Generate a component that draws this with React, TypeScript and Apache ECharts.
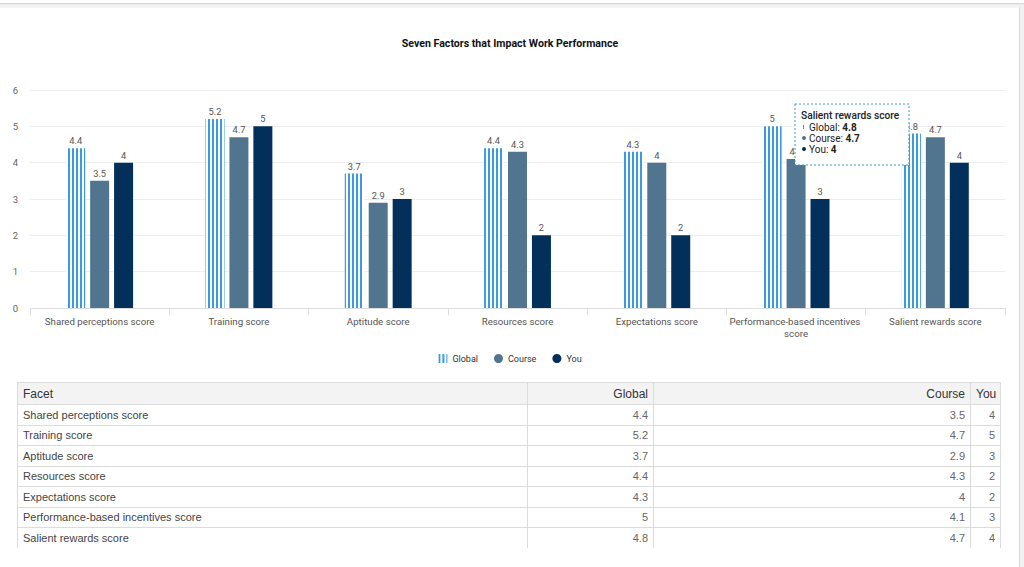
import React, { useEffect, useRef } from "react";
import * as echarts from "echarts";

const titleText = "Seven Factors that Impact Work Performance";
const categories = [
  "Shared perceptions score",
  "Training score",
  "Aptitude score",
  "Resources score",
  "Expectations score",
  "Performance-based incentives score",
  "Salient rewards score",
];
const seriesNames = ["Global", "Course", "You"];
const globalVals = [4.4, 5.2, 3.7, 4.4, 4.3, 5, 4.8];
const courseVals = [3.5, 4.7, 2.9, 4.3, 4, 4.1, 4.7];
const youVals = [4, 5, 3, 2, 2, 3, 4];
const yTicks = [0, 1, 2, 3, 4, 5, 6];
const tooltipIndex = 6;

const C_GLOBAL = "#3a9be0";
const C_COURSE = "#52758f";
const C_YOU = "#02305a";

function Chart() {
  const ref = useRef<HTMLDivElement>(null);
  useEffect(() => {
    if (!ref.current) return;
    const chart = echarts.init(ref.current, undefined, { renderer: "svg" });
    const font = "Roboto, 'Noto Sans', sans-serif";
    const labelStyle = {
      show: true,
      position: "top" as const,
      distance: 3,
      fontSize: 9.3,
      color: "#555",
      fontFamily: font,
    };
    const ti = tooltipIndex;
    const tx = 795;
    const ty = 104;
    chart.setOption({
      animation: false,
      textStyle: { fontFamily: font },
      title: {
        text: titleText,
        left: "center",
        top: 33,
        textStyle: { fontSize: 10.6, fontWeight: "bold", color: "#111", fontFamily: font },
      },
      legend: {
        bottom: 12,
        left: "center",
        itemWidth: 9,
        itemHeight: 9,
        itemGap: 16,
        textStyle: { fontSize: 9, color: "#333", fontFamily: font },
        data: [
          { name: seriesNames[0], icon: "rect" },
          { name: seriesNames[1], icon: "circle" },
          { name: seriesNames[2], icon: "circle" },
        ],
      },
      grid: { left: 30, right: 15, top: 90, bottom: 72 },
      xAxis: {
        type: "category",
        data: categories,
        axisLine: { lineStyle: { color: "#ddd" } },
        axisTick: { show: true, length: 7, lineStyle: { color: "#ddd" } },
        axisLabel: {
          fontSize: 9.7,
          color: "#555",
          margin: 7,
          interval: 0,
          width: 138,
          overflow: "break",
          lineHeight: 12,
          fontFamily: font,
        },
      },
      yAxis: {
        type: "value",
        min: yTicks[0],
        max: yTicks[yTicks.length - 1],
        interval: 1,
        axisLabel: { fontSize: 9.5, color: "#666", margin: 12, fontFamily: font },
        splitLine: { lineStyle: { color: "#eee" } },
        axisLine: { show: false },
        axisTick: { show: false },
      },
      series: [
        {
          name: seriesNames[0],
          type: "bar",
          data: globalVals,
          barWidth: 19,
          barGap: "26%",
          itemStyle: {
            color: "#fff",
            decal: {
              symbol: "rect",
              symbolSize: 1,
              color: C_GLOBAL,
              dashArrayX: [2, 2],
              dashArrayY: [10, 0],
              rotation: 0,
            },
          },
          label: labelStyle,
        },
        {
          name: seriesNames[1],
          type: "bar",
          data: courseVals,
          barWidth: 19,
          barGap: "26%",
          itemStyle: { color: C_COURSE },
          label: labelStyle,
        },
        {
          name: seriesNames[2],
          type: "bar",
          data: youVals,
          barWidth: 19,
          barGap: "26%",
          itemStyle: { color: C_YOU },
          label: labelStyle,
        },
      ],
      graphic: [
        {
          type: "group",
          z: 100,
          children: [
            {
              type: "rect",
              shape: { x: tx, y: ty, width: 114, height: 61 },
              style: { fill: "#fff", stroke: C_GLOBAL, lineWidth: 1, lineDash: [2, 2] },
              z: 100,
            },
            {
              type: "text",
              x: tx + 6,
              y: ty + 11,
              style: {
                text: categories[ti],
                fontSize: 10.2,
                fontWeight: 500,
                fill: "#222",
                fontFamily: font,
                verticalAlign: "middle",
              },
              z: 101,
            },
            {
              type: "rect",
              shape: { x: tx + 8, y: ty + 21, width: 1, height: 4 },
              style: { fill: C_GLOBAL },
              z: 101,
            },
            {
              type: "circle",
              shape: { cx: tx + 9, cy: ty + 34, r: 2 },
              style: { fill: C_COURSE },
              z: 101,
            },
            {
              type: "circle",
              shape: { cx: tx + 9, cy: ty + 45, r: 2 },
              style: { fill: C_YOU },
              z: 101,
            },
            ...[
              [seriesNames[0], globalVals[ti]],
              [seriesNames[1], courseVals[ti]],
              [seriesNames[2], youVals[ti]],
            ].map(([n, v], i) => ({
              type: "text",
              x: tx + 14,
              y: ty + 23 + i * 11,
              style: {
                text: `${n}: {b|${v}}`,
                fontSize: 10,
                fill: "#222",
                fontFamily: font,
                verticalAlign: "middle",
                rich: { b: { fontSize: 10, fontWeight: "bold", fill: "#222", fontFamily: font } },
              },
              z: 101,
            })),
          ],
        },
      ],
    });
    return () => chart.dispose();
  }, []);
  return (
    <div
      ref={ref}
      style={{ position: "absolute", left: 0, top: 0, width: 1020, height: 380 }}
    />
  );
}

function DataTable() {
  const cols = [510, 126, 317, 30];
  const border = "1px solid #dcdcdc";
  const cell: React.CSSProperties = {
    borderTop: border,
    borderLeft: border,
    borderRight: border,
    padding: "0 5px",
    height: 19.5,
    fontSize: 11,
    whiteSpace: "nowrap",
  };
  const rows = categories.map((c, i) => [c, globalVals[i], courseVals[i], youVals[i]]);
  return (
    <table
      style={{
        position: "absolute",
        left: 17,
        top: 382,
        width: 984,
        borderCollapse: "collapse",
        tableLayout: "fixed",
        fontFamily: "'Liberation Sans', Arial, sans-serif",
        color: "#444",
      }}
    >
      <colgroup>
        {cols.map((w, i) => (
          <col key={i} style={{ width: w }} />
        ))}
      </colgroup>
      <thead>
        <tr style={{ background: "#f3f3f3" }}>
          {["Facet", ...seriesNames].map((h, i) => (
            <th
              key={h}
              style={{
                ...cell,
                height: 21,
                fontSize: 12,
                fontWeight: "normal",
                color: "#333",
                textAlign: i === 0 ? "left" : "right",
              }}
            >
              {h}
            </th>
          ))}
        </tr>
      </thead>
      <tbody>
        {rows.map((r, ri) => (
          <tr key={ri}>
            {r.map((v, i) => (
              <td
                key={i}
                style={{
                  ...cell,
                  color: i === 0 ? "#444" : "#666",
                  textAlign: i === 0 ? "left" : "right",
                }}
              >
                {v}
              </td>
            ))}
          </tr>
        ))}
      </tbody>
    </table>
  );
}

export default function App() {
  return (
    <div
      style={{
        position: "fixed",
        left: 0,
        top: 0,
        width: 1024,
        height: 567,
        background: "#fff",
        overflow: "hidden",
      }}
    >
      <div style={{ position: "absolute", left: 0, top: 3, width: 1024, height: 1, background: "#d6d6d6" }} />
      <div
        style={{
          position: "absolute",
          left: 0,
          top: 4,
          width: 1024,
          height: 4,
          background: "linear-gradient(#ececec, #f8f8f8)",
        }}
      />
      <div
        style={{
          position: "absolute",
          left: 1019,
          top: 7,
          width: 5,
          height: 560,
          background: "#f1f1f1",
          borderLeft: "1px solid #d8d8d8",
        }}
      />
      <Chart />
      <DataTable />
    </div>
  );
}
